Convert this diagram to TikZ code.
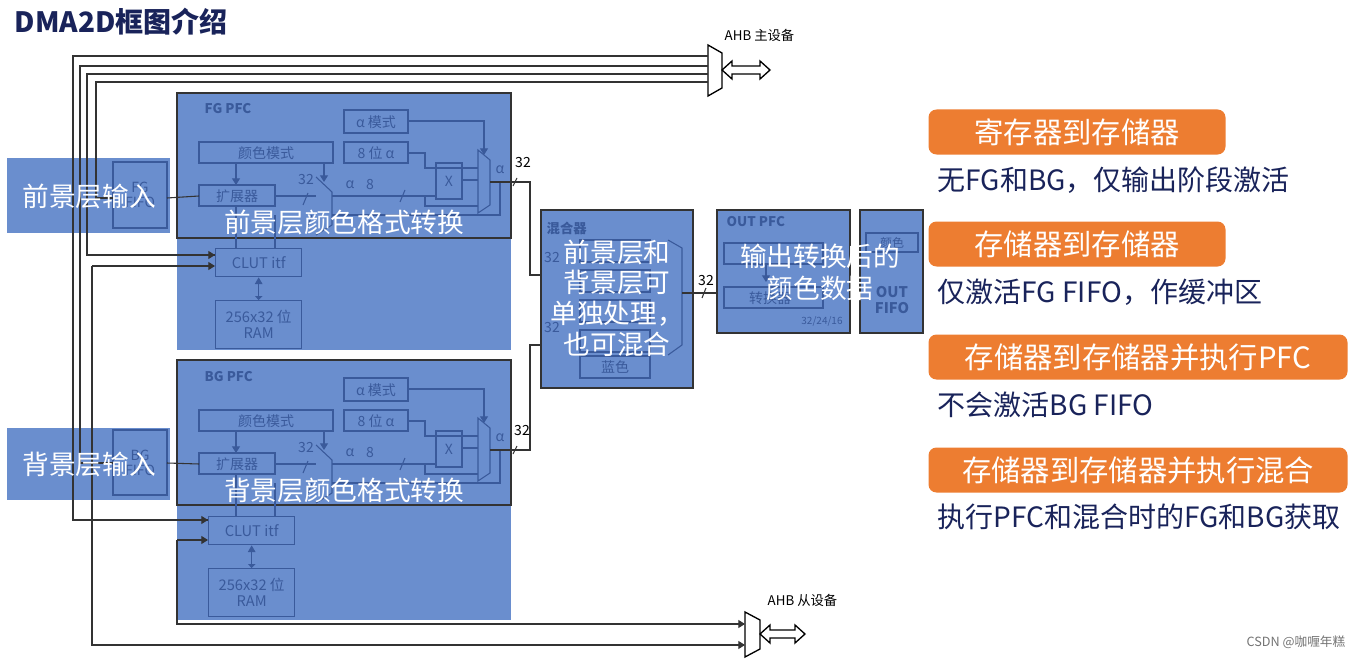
\documentclass[tikz,border=0pt]{standalone}
\usepackage{fontspec}
\setmainfont{Noto Sans CJK SC}
\usetikzlibrary{arrows.meta}
\definecolor{blu}{RGB}{106,142,206}
\definecolor{inb}{RGB}{58,90,155}
\definecolor{org}{RGB}{237,125,49}
\definecolor{navy}{RGB}{25,35,90}
\tikzset{
 bus/.style={draw=black!80,line width=0.8pt},
 inbox/.style={draw=inb,line width=1pt,text=inb,font=\fontsize{11}{12}\selectfont,inner sep=0pt},
 itx/.style={text=inb,font=\fontsize{10.5}{11}\selectfont},
 inl/.style={draw=inb,line width=0.8pt},
 over/.style={text=white,font=\fontsize{20}{24}\selectfont,align=center},
 obox/.style={fill=org,rounded corners=6pt,text=white,font=\fontsize{22}{26}\selectfont},
 otxt/.style={text=navy,font=\fontsize{21}{25}\selectfont,anchor=west},
 lab/.style={font=\fontsize{10.5}{11}\selectfont,inner sep=1pt},
 tip/.style={-{Triangle[length=5pt,width=6pt]}}
}
\begin{document}
\begin{tikzpicture}[x=0.75pt,y=-0.75pt]
\useasboundingbox (0,0) rectangle (1361,660);
\node[anchor=west,text=navy,font=\fontsize{21}{24}\selectfont\bfseries] (title) at (10,22) {DMA2D框图介绍};
% blue regions
\fill[blu] (177,93) rectangle (511,350);
\fill[blu] (177,360) rectangle (511,620);
\draw[black!80,line width=1pt] (177,93) rectangle (511,238);
\draw[black!80,line width=1pt] (177,360) rectangle (511,505);
\fill[blu] (7,158) rectangle (170,233);
\fill[blu] (7,428) rectangle (170,500);
\draw[inb,line width=1pt] (113,162) rectangle (167,228);
\draw[inb,line width=1pt] (113,430) rectangle (167,495);
\node[itx,align=center] (fgf) at (140,195) {FG\\FIFO};
\node[itx,align=center] (bgf) at (140,463) {BG\\FIFO};
% PFC inner (FG and BG)
\foreach \o/\nm in {0/FG,268/BG}{
 \node[anchor=west,text=inb,font=\fontsize{10}{11}\selectfont\bfseries] at (200,\o+109) {\nm\ PFC};
 \draw[inl] (344,\o+110) rectangle (408,\o+133);
 \node[itx] at (376,\o+122) {α 模式};
 \draw[inl] (199,\o+142) rectangle (333,\o+163);
 \node[itx] at (266,\o+153) {颜色模式};
 \draw[inl] (344,\o+142) rectangle (408,\o+163);
 \node[itx] at (376,\o+153) {8 位 α};
 \draw[inl] (199,\o+185) rectangle (275,\o+206);
 \node[itx] at (237,\o+196) {扩展器};
 \draw[inl] (436,\o+163) rectangle (462,\o+199);
 \node[itx] at (449,\o+181) {X};
 \draw[inl] (316,\o+177) -- (332,\o+192) -- (332,\o+225) -- (316,\o+235);
 \draw[inl] (478,\o+150) -- (490,\o+160) -- (490,\o+205) -- (478,\o+213) -- cycle;
 \draw[inl,tip] (236,\o+163) -- (236,\o+185);
 \draw[inl,tip] (324,\o+163) -- (324,\o+182);
 \draw[inl,tip] (408,\o+121) -- (484,\o+121) -- (484,\o+155);
 \draw[inl] (275,\o+196) -- (316,\o+196);
 \draw[inl] (332,\o+196) -- (436,\o+196);
 \draw[inl] (408,\o+153) -- (425,\o+153) -- (425,\o+168) -- (436,\o+168);
 \draw[inl] (425,\o+168) -- (478,\o+168);
 \draw[inl] (462,\o+180) -- (478,\o+180);
 \draw[inl] (425,\o+196) -- (425,\o+206) -- (478,\o+206);
 \draw[inl] (490,\o+182) -- (500,\o+182) -- (500,\o+215) -- (332,\o+215);
 \draw[inl] (303,\o+205) -- (308,\o+193) (400,\o+202) -- (405,\o+190);
 \node[itx,lab] at (306,\o+180) {32};
 \node[itx,lab] at (350,\o+185) {α};
 \node[itx,lab] at (370,\o+185) {8};
 \node[itx,lab] at (500,\o+170) {α};
 \draw[inl] (308,\o+225) -- (312,\o+215);
 \draw[inl] (236,\o+206) -- (236,\o+248);
 \draw[inl] (275,\o+215) -- (275,\o+248);
}
% CLUT and RAM
\node[inbox,anchor=north west,minimum width=86*0.75pt,minimum height=28*0.75pt] (fclut) at (215,248) {CLUT itf};
\node[inbox,anchor=north west,minimum width=86*0.75pt,minimum height=48*0.75pt,align=center] (fram) at (215,300) {256x32 位\\RAM};
\node[inbox,anchor=north west,minimum width=86*0.75pt,minimum height=28*0.75pt] (bclut) at (208,516) {CLUT itf};
\node[inbox,anchor=north west,minimum width=86*0.75pt,minimum height=48*0.75pt,align=center] (bram) at (208,568) {256x32 位\\RAM};
\draw[inl,{Triangle[length=5pt]}-{Triangle[length=3pt]}] (fclut.south) -- (fram.north);
\draw[inl,{Triangle[length=5pt]}-{Triangle[length=3pt]}] (bclut.south) -- (bram.north);
% mixer
\fill[blu] (541,210) rectangle (693,388);
\draw[black!80,line width=1pt] (541,210) rectangle (693,388);
\node[anchor=west,text=inb,font=\fontsize{10}{11}\selectfont\bfseries] (mixt) at (542,228) {混合器};
\draw[inl] (580,240) rectangle (650,262);
\draw[inl] (580,270) rectangle (650,292);
\draw[inl] (580,300) rectangle (650,322);
\draw[inl] (580,330) rectangle (650,352);
\draw[inl] (580,356) rectangle (650,378);
\node[itx] at (615,367) {蓝色};
\draw[inl] (668,240) -- (682,248) -- (682,345) -- (668,355);
\node[itx,lab] at (552,258) {32};
\node[itx,lab] at (552,328) {32};
% out pfc
\fill[blu] (717,210) rectangle (850,333);
\fill[blu] (860,210) rectangle (923,333);
\draw[black!80,line width=1pt] (717,210) rectangle (850,333);
\draw[black!80,line width=1pt] (860,210) rectangle (923,333);
\node[anchor=west,text=inb,font=\fontsize{10}{11}\selectfont\bfseries] (outt) at (722,222) {OUT PFC};
\draw[inl] (724,243) rectangle (823,264);
\draw[inl] (724,287) rectangle (823,308);
\node[itx] at (770,298) {转换器};
\draw[inl,tip] (766,264) -- (766,282);
\node[text=inb,font=\fontsize{7.5}{8}\selectfont] at (822,321) {32/24/16};
\draw[inl] (866,233) rectangle (918,252);
\node[itx,font=\fontsize{9}{9}\selectfont] at (892,243) {颜色};
\node[text=inb,font=\fontsize{11}{12}\selectfont\bfseries,align=center] (ofifo) at (892,300) {OUT\\FIFO};
% data paths
\draw[bus] (490,182) -- (530,182) -- (530,275) -- (541,275);
\draw[bus] (490,450) -- (530,450) -- (530,345) -- (541,345);
\draw[bus] (682,293) -- (717,293);
\draw[bus] (513,186) -- (517,178) (513,454) -- (517,446) (702,298) -- (706,288);
\node[lab] at (523,163) {32};
\node[lab] at (522,431) {32};
\node[lab] at (706,281) {32};
% AHB symbols
\draw[black,line width=1pt] (708,45) -- (722,53) -- (722,88) -- (708,96) -- cycle;
\draw[black,line width=1pt] (722,70) -- (732,61) -- (732,66) -- (760,66) -- (760,61) -- (770,70) -- (760,79) -- (760,74) -- (732,74) -- (732,79) -- cycle;
\node[anchor=west,font=\fontsize{10}{11}\selectfont] (mlab) at (720,35) {AHB 主设备};
\draw[black,line width=1pt] (745,612) -- (760,620) -- (760,649) -- (745,657) -- cycle;
\draw[black,line width=1pt] (760,634) -- (770,625) -- (770,630) -- (795,630) -- (795,625) -- (805,634) -- (795,643) -- (795,638) -- (770,638) -- (770,643) -- cycle;
\node[anchor=west,font=\fontsize{10}{11}\selectfont] (slab) at (763,600) {AHB 从设备};
% bus lines
\draw[bus] (708,56) -- (73,56) -- (73,520) -- (208,520);
\draw[bus] (708,66) -- (80,66) -- (80,463) -- (113,463);
\draw[bus] (708,74) -- (87,74) -- (87,255) -- (215,255);
\draw[bus] (708,82) -- (96,82) -- (96,198) -- (113,198);
\draw[bus] (167,198) -- (199,196);
\draw[bus] (167,463) -- (199,464);
\draw[bus,tip] (200,255) -- (215,255);
\draw[bus,tip] (92,266) -- (215,266);
\draw[bus,tip] (193,520) -- (208,520);
\draw[bus,tip] (177,540) -- (208,540);
\draw[bus,tip] (177,540) -- (177,624) -- (745,624);
\draw[bus,tip] (92,266) -- (92,645) -- (745,645);
% overlay texts
\node[over] (t1) at (89,196) {前景层输入};
\node[over] (t2) at (89,464) {背景层输入};
\node[over] (t3) at (344,222) {前景层颜色格式转换};
\node[over] (t4) at (344,490) {背景层颜色格式转换};
\node[over,font=\fontsize{20}{23}\selectfont] (t5) at (617,298) {前景层和\\背景层可\\单独处理，\\也可混合};
\node[over] (t6) at (820,272) {输出转换后的\\颜色数据};
% right column
\node[obox,minimum width=297*0.75pt,minimum height=45*0.75pt] (b1) at (1077,132) {寄存器到存储器};
\node[otxt] (d1) at (933,180) {无FG和BG，仅输出阶段激活};
\node[obox,minimum width=297*0.75pt,minimum height=45*0.75pt] (b2) at (1077,244) {存储器到存储器};
\node[otxt] (d2) at (933,292) {仅激活FG FIFO，作缓冲区};
\node[obox,minimum width=419*0.75pt,minimum height=45*0.75pt] (b3) at (1138,357) {存储器到存储器并执行PFC};
\node[otxt] (d3) at (933,405) {不会激活BG FIFO};
\node[obox,minimum width=419*0.75pt,minimum height=45*0.75pt] (b4) at (1138,470) {存储器到存储器并执行混合};
\node[otxt] (d4) at (933,517) {执行PFC和混合时的FG和BG获取};
\node[anchor=east,text=black!55,font=\fontsize{9.5}{10}\selectfont] (wm) at (1350,642) {CSDN @咖喱年糕};
\end{tikzpicture}
\end{document}
